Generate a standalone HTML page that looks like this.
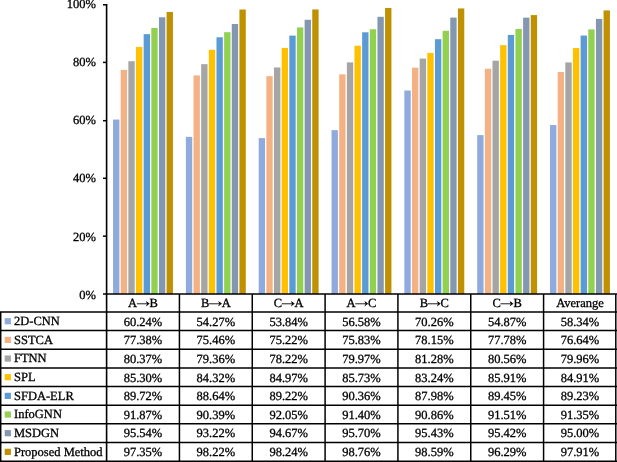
<!DOCTYPE html>
<html lang="en"><head><meta charset="utf-8"><title>Accuracy comparison</title>
<style>html,body{margin:0;padding:0;background:#fff}body{width:617px;height:462px;overflow:hidden}.ar{font-family:"WenQuanYi Zen Hei","Liberation Serif",serif}</style></head>
<body>
<svg xmlns="http://www.w3.org/2000/svg" width="617" height="462" viewBox="0 0 617 462" style="display:block;font-family:'Liberation Serif',serif;font-size:12.5px" text-rendering="geometricPrecision">
<rect width="617" height="462" fill="#fff"/>
<rect x="113.05" y="119.55" width="6.35" height="174.55" fill="#8FAADC"/>
<rect x="120.70" y="69.89" width="6.35" height="224.21" fill="#F4B183"/>
<rect x="128.35" y="61.23" width="6.35" height="232.87" fill="#A5A5A5"/>
<rect x="136.00" y="46.94" width="6.35" height="247.16" fill="#FFC000"/>
<rect x="143.65" y="34.14" width="6.35" height="259.96" fill="#5B9BD5"/>
<rect x="151.30" y="27.91" width="6.35" height="266.19" fill="#92D050"/>
<rect x="158.95" y="17.27" width="6.35" height="276.83" fill="#8497B0"/>
<rect x="166.60" y="12.03" width="6.35" height="282.07" fill="#BF9000"/>
<rect x="185.88" y="136.85" width="6.35" height="157.25" fill="#8FAADC"/>
<rect x="193.53" y="75.45" width="6.35" height="218.65" fill="#F4B183"/>
<rect x="201.18" y="64.15" width="6.35" height="229.95" fill="#A5A5A5"/>
<rect x="208.83" y="49.78" width="6.35" height="244.32" fill="#FFC000"/>
<rect x="216.48" y="37.27" width="6.35" height="256.83" fill="#5B9BD5"/>
<rect x="224.13" y="32.19" width="6.35" height="261.91" fill="#92D050"/>
<rect x="231.78" y="24.00" width="6.35" height="270.10" fill="#8497B0"/>
<rect x="239.43" y="9.51" width="6.35" height="284.59" fill="#BF9000"/>
<rect x="258.71" y="138.10" width="6.35" height="156.00" fill="#8FAADC"/>
<rect x="266.36" y="76.15" width="6.35" height="217.95" fill="#F4B183"/>
<rect x="274.01" y="67.46" width="6.35" height="226.64" fill="#A5A5A5"/>
<rect x="281.66" y="47.90" width="6.35" height="246.20" fill="#FFC000"/>
<rect x="289.31" y="35.59" width="6.35" height="258.51" fill="#5B9BD5"/>
<rect x="296.96" y="27.39" width="6.35" height="266.71" fill="#92D050"/>
<rect x="304.61" y="19.79" width="6.35" height="274.31" fill="#8497B0"/>
<rect x="312.26" y="9.45" width="6.35" height="284.65" fill="#BF9000"/>
<rect x="331.54" y="130.16" width="6.35" height="163.94" fill="#8FAADC"/>
<rect x="339.19" y="74.38" width="6.35" height="219.72" fill="#F4B183"/>
<rect x="346.84" y="62.39" width="6.35" height="231.71" fill="#A5A5A5"/>
<rect x="354.49" y="45.70" width="6.35" height="248.40" fill="#FFC000"/>
<rect x="362.14" y="32.28" width="6.35" height="261.82" fill="#5B9BD5"/>
<rect x="369.79" y="29.27" width="6.35" height="264.83" fill="#92D050"/>
<rect x="377.44" y="16.81" width="6.35" height="277.29" fill="#8497B0"/>
<rect x="385.09" y="7.94" width="6.35" height="286.16" fill="#BF9000"/>
<rect x="404.37" y="90.52" width="6.35" height="203.58" fill="#8FAADC"/>
<rect x="412.02" y="67.66" width="6.35" height="226.44" fill="#F4B183"/>
<rect x="419.67" y="58.59" width="6.35" height="235.51" fill="#A5A5A5"/>
<rect x="427.32" y="52.91" width="6.35" height="241.19" fill="#FFC000"/>
<rect x="434.97" y="39.18" width="6.35" height="254.92" fill="#5B9BD5"/>
<rect x="442.62" y="30.83" width="6.35" height="263.27" fill="#92D050"/>
<rect x="450.27" y="17.59" width="6.35" height="276.51" fill="#8497B0"/>
<rect x="457.92" y="8.44" width="6.35" height="285.66" fill="#BF9000"/>
<rect x="477.20" y="135.11" width="6.35" height="158.99" fill="#8FAADC"/>
<rect x="484.85" y="68.73" width="6.35" height="225.37" fill="#F4B183"/>
<rect x="492.50" y="60.68" width="6.35" height="233.42" fill="#A5A5A5"/>
<rect x="500.15" y="45.18" width="6.35" height="248.92" fill="#FFC000"/>
<rect x="507.80" y="34.92" width="6.35" height="259.18" fill="#5B9BD5"/>
<rect x="515.45" y="28.95" width="6.35" height="265.15" fill="#92D050"/>
<rect x="523.10" y="17.62" width="6.35" height="276.48" fill="#8497B0"/>
<rect x="530.75" y="15.10" width="6.35" height="279.00" fill="#BF9000"/>
<rect x="550.03" y="125.06" width="6.35" height="169.04" fill="#8FAADC"/>
<rect x="557.68" y="72.04" width="6.35" height="222.06" fill="#F4B183"/>
<rect x="565.33" y="62.42" width="6.35" height="231.68" fill="#A5A5A5"/>
<rect x="572.98" y="48.07" width="6.35" height="246.03" fill="#FFC000"/>
<rect x="580.63" y="35.56" width="6.35" height="258.54" fill="#5B9BD5"/>
<rect x="588.28" y="29.41" width="6.35" height="264.69" fill="#92D050"/>
<rect x="595.93" y="18.84" width="6.35" height="275.26" fill="#8497B0"/>
<rect x="603.58" y="10.41" width="6.35" height="283.69" fill="#BF9000"/>
<g stroke="#000" stroke-width="1.5" fill="none">
<line x1="106.6" y1="4.05" x2="106.6" y2="461.5" stroke-width="1.6"/>
<line x1="103.0" y1="294.10" x2="617" y2="294.10"/>
<line x1="103.0" y1="236.15" x2="106.6" y2="236.15"/>
<line x1="103.0" y1="178.30" x2="106.6" y2="178.30"/>
<line x1="103.0" y1="120.70" x2="106.6" y2="120.70"/>
<line x1="103.0" y1="62.40" x2="106.6" y2="62.40"/>
<line x1="103.0" y1="4.80" x2="106.6" y2="4.80"/>
<line x1="-0.050000000000000044" y1="311.90" x2="617" y2="311.90"/>
<line x1="-0.050000000000000044" y1="330.56" x2="617" y2="330.56"/>
<line x1="-0.050000000000000044" y1="349.22" x2="617" y2="349.22"/>
<line x1="-0.050000000000000044" y1="367.88" x2="617" y2="367.88"/>
<line x1="-0.050000000000000044" y1="386.54" x2="617" y2="386.54"/>
<line x1="-0.050000000000000044" y1="405.20" x2="617" y2="405.20"/>
<line x1="-0.050000000000000044" y1="423.86" x2="617" y2="423.86"/>
<line x1="-0.050000000000000044" y1="442.52" x2="617" y2="442.52"/>
<line x1="-0.050000000000000044" y1="461.18" x2="617" y2="461.18"/>
<line x1="0.7" y1="311.9" x2="0.7" y2="461.17999999999995"/>
<line x1="179.43" y1="294.1" x2="179.43" y2="461.17999999999995"/>
<line x1="252.26" y1="294.1" x2="252.26" y2="461.17999999999995"/>
<line x1="325.09" y1="294.1" x2="325.09" y2="461.17999999999995"/>
<line x1="397.92" y1="294.1" x2="397.92" y2="461.17999999999995"/>
<line x1="470.75" y1="294.1" x2="470.75" y2="461.17999999999995"/>
<line x1="543.58" y1="294.1" x2="543.58" y2="461.17999999999995"/>
<line x1="615.80" y1="294.1" x2="615.80" y2="461.17999999999995"/>
</g>
<g fill="#000" stroke="#000" stroke-width="0.3" text-anchor="end">
<text x="96.0" y="298.75">0%</text>
<text x="96.0" y="240.80">20%</text>
<text x="96.0" y="182.30">40%</text>
<text x="96.0" y="124.40">60%</text>
<text x="96.0" y="66.40">80%</text>
<text x="96.0" y="8.15">100%</text>
</g>
<g fill="#000" stroke="#000" stroke-width="0.3" text-anchor="middle">
<text x="143.01" y="307.30">A<tspan class="ar" font-size="14.6" dx="-1.05" dy="1.90">→</tspan><tspan dx="-1.05" dy="-1.90">B</tspan></text>
<text x="215.84" y="307.30">B<tspan class="ar" font-size="14.6" dx="-1.05" dy="1.90">→</tspan><tspan dx="-1.05" dy="-1.90">A</tspan></text>
<text x="288.67" y="307.30">C<tspan class="ar" font-size="14.6" dx="-1.05" dy="1.90">→</tspan><tspan dx="-1.05" dy="-1.90">A</tspan></text>
<text x="361.50" y="307.30">A<tspan class="ar" font-size="14.6" dx="-1.05" dy="1.90">→</tspan><tspan dx="-1.05" dy="-1.90">C</tspan></text>
<text x="434.34" y="307.30">B<tspan class="ar" font-size="14.6" dx="-1.05" dy="1.90">→</tspan><tspan dx="-1.05" dy="-1.90">C</tspan></text>
<text x="507.16" y="307.30">C<tspan class="ar" font-size="14.6" dx="-1.05" dy="1.90">→</tspan><tspan dx="-1.05" dy="-1.90">B</tspan></text>
<text x="580.00" y="307.30">Averange</text>
<text x="143.01" y="325.53">60.24%</text>
<text x="215.84" y="325.53">54.27%</text>
<text x="288.67" y="325.53">53.84%</text>
<text x="361.50" y="325.53">56.58%</text>
<text x="434.34" y="325.53">70.26%</text>
<text x="507.16" y="325.53">54.87%</text>
<text x="580.00" y="325.53">58.34%</text>
<text x="143.01" y="344.19">77.38%</text>
<text x="215.84" y="344.19">75.46%</text>
<text x="288.67" y="344.19">75.22%</text>
<text x="361.50" y="344.19">75.83%</text>
<text x="434.34" y="344.19">78.15%</text>
<text x="507.16" y="344.19">77.78%</text>
<text x="580.00" y="344.19">76.64%</text>
<text x="143.01" y="362.85">80.37%</text>
<text x="215.84" y="362.85">79.36%</text>
<text x="288.67" y="362.85">78.22%</text>
<text x="361.50" y="362.85">79.97%</text>
<text x="434.34" y="362.85">81.28%</text>
<text x="507.16" y="362.85">80.56%</text>
<text x="580.00" y="362.85">79.96%</text>
<text x="143.01" y="381.51">85.30%</text>
<text x="215.84" y="381.51">84.32%</text>
<text x="288.67" y="381.51">84.97%</text>
<text x="361.50" y="381.51">85.73%</text>
<text x="434.34" y="381.51">83.24%</text>
<text x="507.16" y="381.51">85.91%</text>
<text x="580.00" y="381.51">84.91%</text>
<text x="143.01" y="400.17">89.72%</text>
<text x="215.84" y="400.17">88.64%</text>
<text x="288.67" y="400.17">89.22%</text>
<text x="361.50" y="400.17">90.36%</text>
<text x="434.34" y="400.17">87.98%</text>
<text x="507.16" y="400.17">89.45%</text>
<text x="580.00" y="400.17">89.23%</text>
<text x="143.01" y="418.83">91.87%</text>
<text x="215.84" y="418.83">90.39%</text>
<text x="288.67" y="418.83">92.05%</text>
<text x="361.50" y="418.83">91.40%</text>
<text x="434.34" y="418.83">90.86%</text>
<text x="507.16" y="418.83">91.51%</text>
<text x="580.00" y="418.83">91.35%</text>
<text x="143.01" y="437.49">95.54%</text>
<text x="215.84" y="437.49">93.22%</text>
<text x="288.67" y="437.49">94.67%</text>
<text x="361.50" y="437.49">95.70%</text>
<text x="434.34" y="437.49">95.43%</text>
<text x="507.16" y="437.49">95.42%</text>
<text x="580.00" y="437.49">95.00%</text>
<text x="143.01" y="456.15">97.35%</text>
<text x="215.84" y="456.15">98.22%</text>
<text x="288.67" y="456.15">98.24%</text>
<text x="361.50" y="456.15">98.76%</text>
<text x="434.34" y="456.15">98.59%</text>
<text x="507.16" y="456.15">96.29%</text>
<text x="580.00" y="456.15">97.91%</text>
</g>
<g fill="#000" stroke="#000" stroke-width="0.3">
<rect x="4.7" y="318.13" width="6.2" height="6.2" fill="#8FAADC" stroke="none"/>
<text x="14.0" y="325.08">2D-CNN</text>
<rect x="4.7" y="336.79" width="6.2" height="6.2" fill="#F4B183" stroke="none"/>
<text x="14.0" y="343.74">SSTCA</text>
<rect x="4.7" y="355.45" width="6.2" height="6.2" fill="#A5A5A5" stroke="none"/>
<text x="14.0" y="362.40">FTNN</text>
<rect x="4.7" y="374.11" width="6.2" height="6.2" fill="#FFC000" stroke="none"/>
<text x="14.0" y="381.06">SPL</text>
<rect x="4.7" y="392.77" width="6.2" height="6.2" fill="#5B9BD5" stroke="none"/>
<text x="14.0" y="399.72">SFDA-ELR</text>
<rect x="4.7" y="411.43" width="6.2" height="6.2" fill="#92D050" stroke="none"/>
<text x="14.0" y="418.38">InfoGNN</text>
<rect x="4.7" y="430.09" width="6.2" height="6.2" fill="#8497B0" stroke="none"/>
<text x="14.0" y="437.04">MSDGN</text>
<rect x="4.7" y="448.75" width="6.2" height="6.2" fill="#BF9000" stroke="none"/>
<text x="14.0" y="455.70">Proposed Method</text>
</g>
</svg>
</body></html>
